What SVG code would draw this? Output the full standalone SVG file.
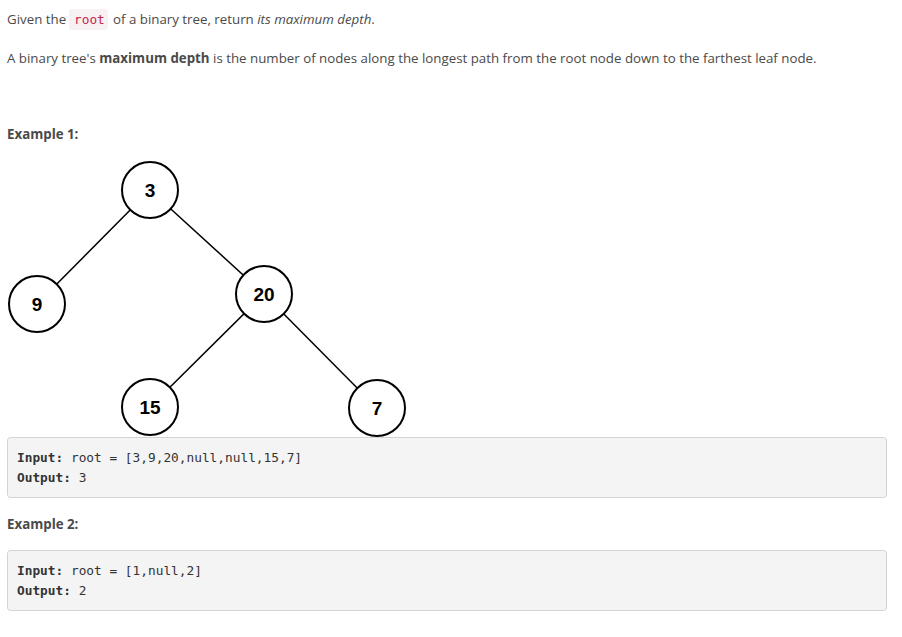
<svg xmlns="http://www.w3.org/2000/svg" width="902" height="637" viewBox="0 0 902 637">
<style>
.t{font-family:"Open Sans","Liberation Sans",sans-serif;font-size:13.3px;fill:#4a4a4a}
.b{font-weight:bold}
.m{font-family:"DejaVu Sans Mono","Liberation Mono",monospace;font-size:12.8px;fill:#333}
.n circle{fill:#fff;stroke:#000;stroke-width:2}
.n text{font-family:"Liberation Sans",Arial,sans-serif;font-size:19px;font-weight:bold;text-anchor:middle;fill:#000}
.e line{stroke:#000;stroke-width:1.5}
.box{fill:#f4f4f4;stroke:#d3d3d3;rx:3}
</style>
<rect width="902" height="637" fill="#fff"/>
<text class="t" x="7" y="24">Given the</text>
<rect x="69" y="9" width="39" height="21" rx="3" fill="#f7f1f3"/>
<text x="74" y="24" style="font-family:'DejaVu Sans Mono','Liberation Mono',monospace;font-size:12.8px;fill:#c7254e">root</text>
<text class="t" x="113" y="24">of a binary tree, return <tspan font-style="italic">its maximum depth</tspan>.</text>
<text class="t" x="7" y="63">A binary tree's <tspan class="b">maximum depth</tspan> is the number of nodes along the longest path from the root node down to the farthest leaf node.</text>
<text class="t b" x="7" y="139">Example 1:</text>
<g class="e" id="edges">
<line x1="150" y1="190" x2="37" y2="304"/>
<line x1="150" y1="190" x2="264" y2="294"/>
<line x1="264" y1="294" x2="150" y2="407"/>
<line x1="264" y1="294" x2="377" y2="408"/>
</g>
<g class="n" id="n3"><circle cx="150" cy="190" r="28"/><text x="150" y="197">3</text></g>
<g class="n" id="n9"><circle cx="37" cy="304" r="28"/><text x="37" y="311">9</text></g>
<g class="n" id="n20"><circle cx="264" cy="294" r="28"/><text x="264" y="301">20</text></g>
<g class="n" id="n15"><circle cx="150" cy="407" r="28"/><text x="150" y="414">15</text></g>
<g class="n" id="n7"><circle cx="377" cy="408" r="28"/><text x="377" y="415">7</text></g>
<rect class="box" x="7.5" y="437.5" width="879" height="60"/>
<text class="m" x="17" y="462"><tspan font-weight="bold">Input:</tspan> root = [3,9,20,null,null,15,7]</text>
<text class="m" x="17" y="482"><tspan font-weight="bold">Output:</tspan> 3</text>
<text class="t b" x="7" y="529">Example 2:</text>
<rect class="box" x="7.5" y="550.5" width="879" height="60"/>
<text class="m" x="17" y="575"><tspan font-weight="bold">Input:</tspan> root = [1,null,2]</text>
<text class="m" x="17" y="595"><tspan font-weight="bold">Output:</tspan> 2</text>
</svg>
